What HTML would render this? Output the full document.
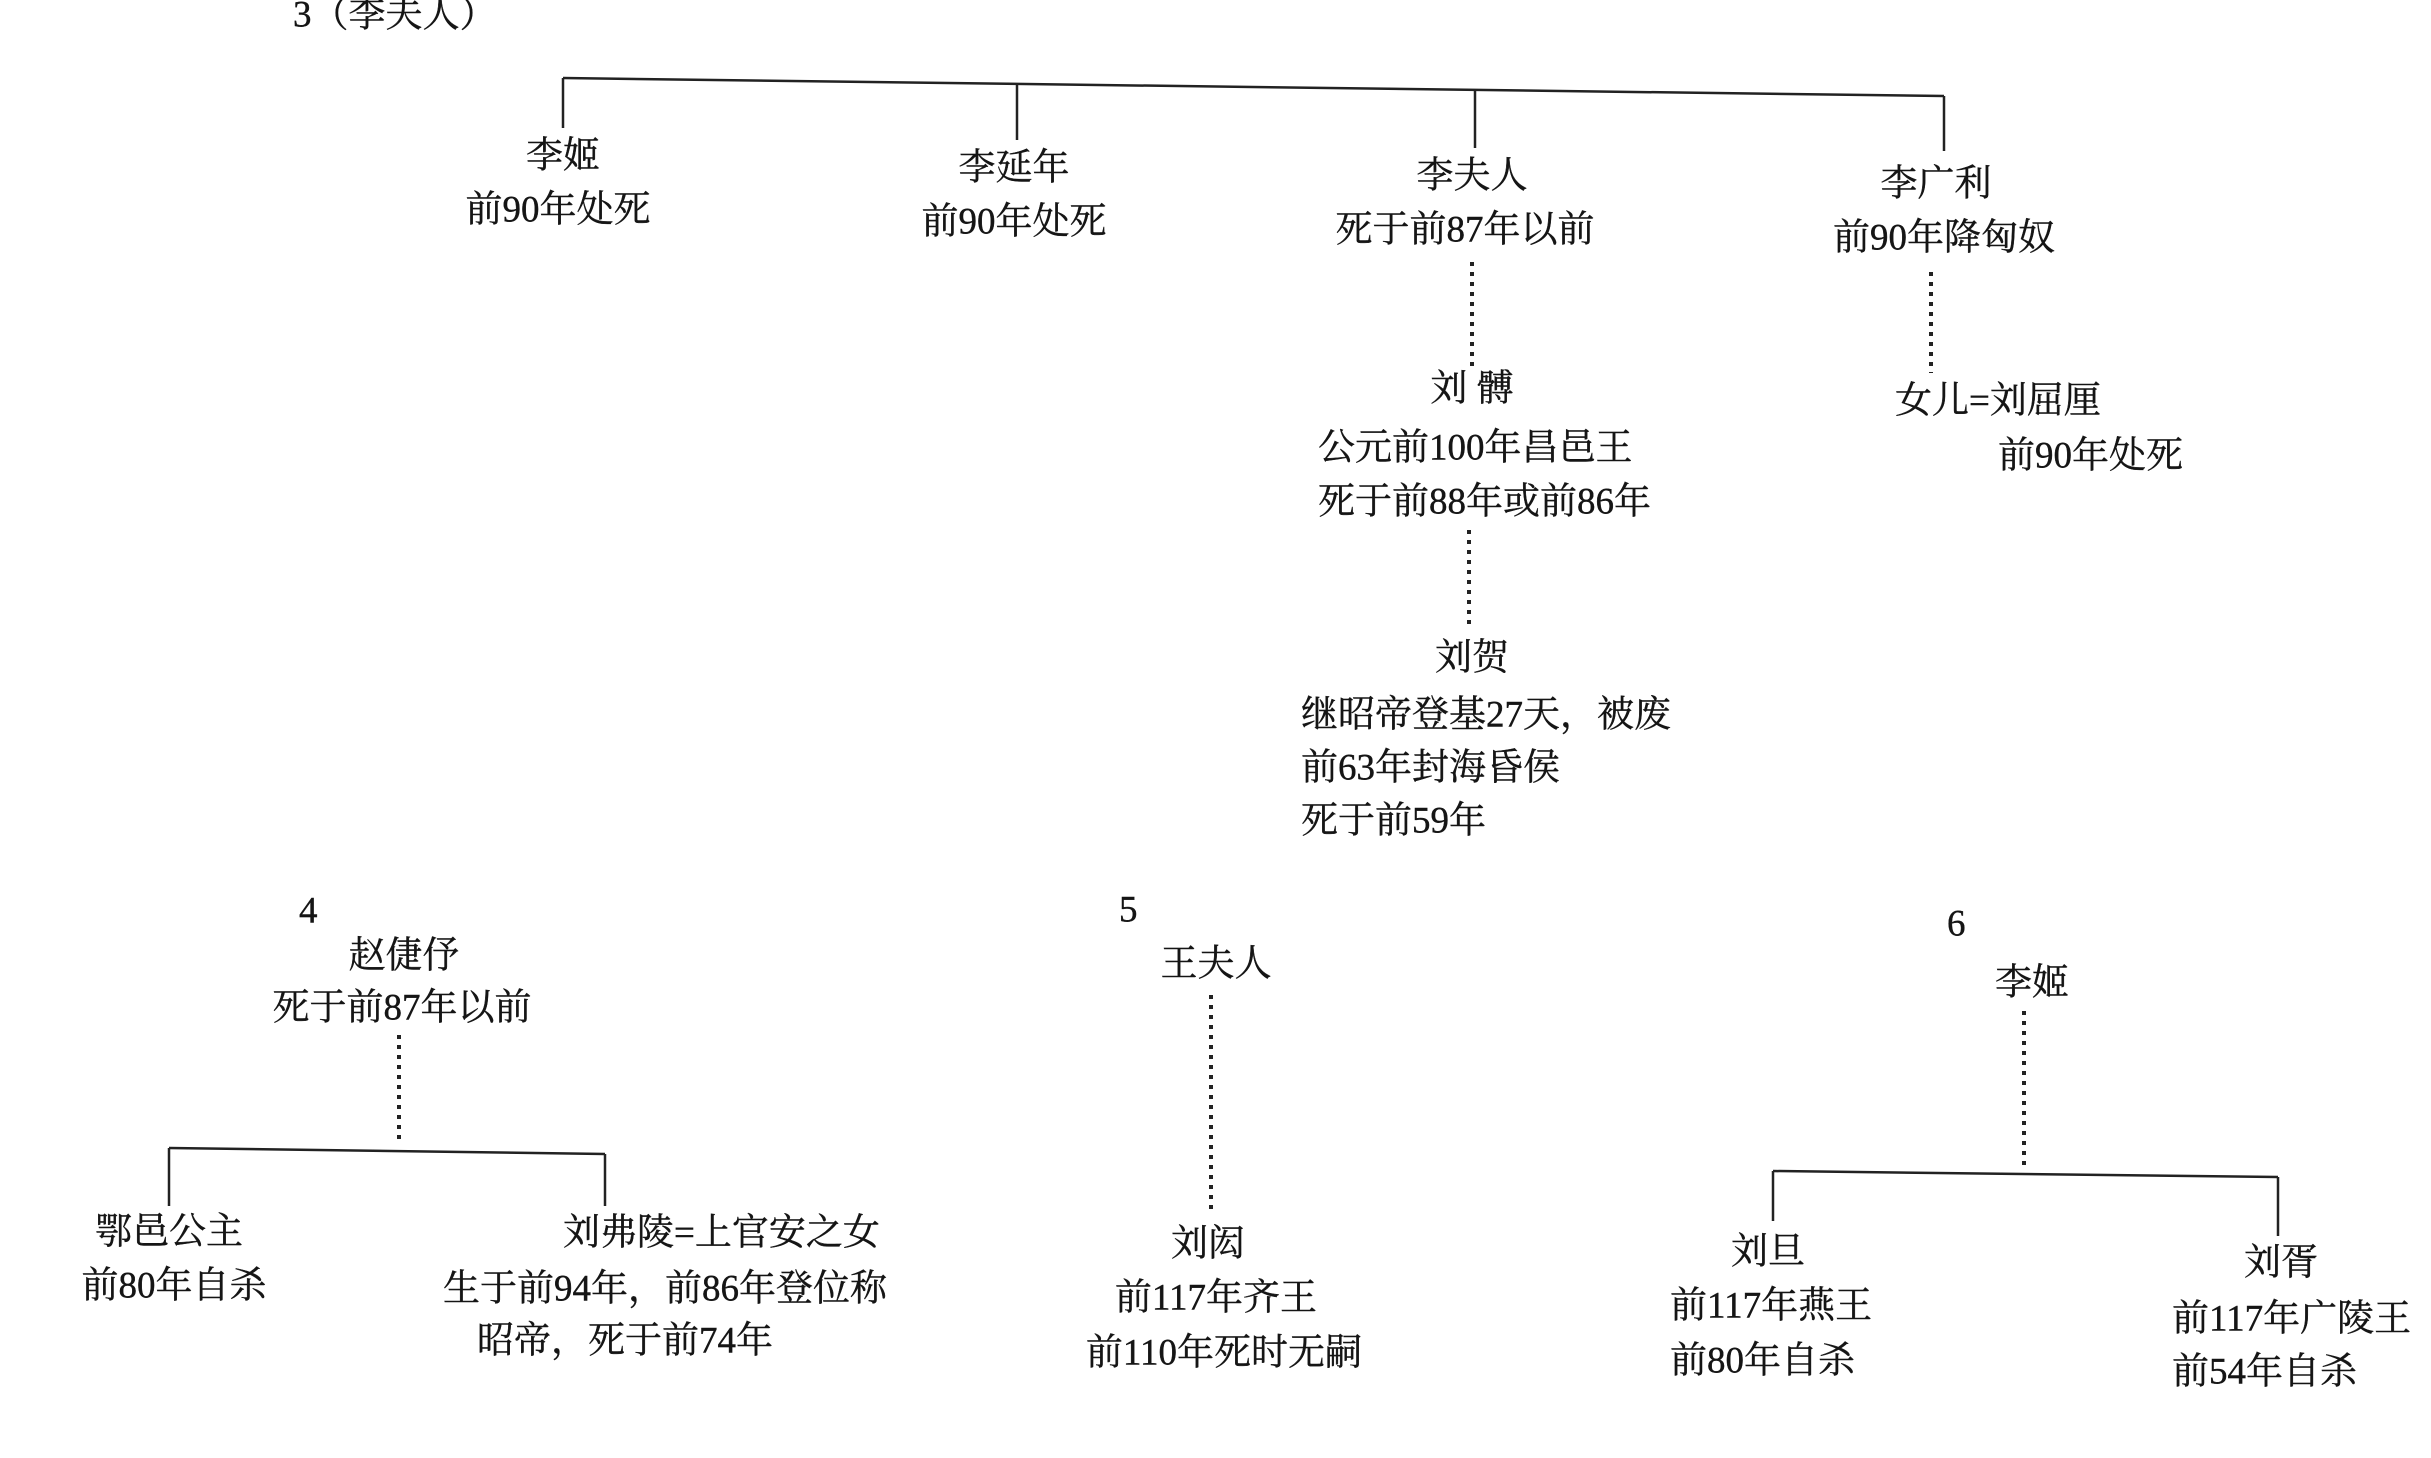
<!DOCTYPE html>
<html><head><meta charset="utf-8"><style>
html,body{margin:0;padding:0;background:#fff;}
svg{display:block;}
text{font-family:"Liberation Serif","Noto Serif CJK SC",serif;font-size:37px;fill:#151515;stroke:#151515;stroke-width:0.4;dominant-baseline:central;}
.c{text-anchor:middle;}
</style></head><body>
<svg width="2431" height="1458" viewBox="0 0 2431 1458" xmlns="http://www.w3.org/2000/svg">
<g transform="translate(-5,0)">
<g stroke="#222" stroke-width="2.5" fill="none">
<line x1="568" y1="78" x2="1949" y2="96"/>
<line x1="568" y1="78" x2="568" y2="128"/>
<line x1="1022" y1="84" x2="1022" y2="140"/>
<line x1="1480" y1="90" x2="1480" y2="148"/>
<line x1="1949" y1="96" x2="1949" y2="151"/>
<line x1="174" y1="1148" x2="610" y2="1154"/>
<line x1="174" y1="1148" x2="174" y2="1206"/>
<line x1="610" y1="1154" x2="610" y2="1206"/>
<line x1="1778" y1="1171" x2="2283" y2="1177"/>
<line x1="1778" y1="1171" x2="1778" y2="1221"/>
<line x1="2283" y1="1177" x2="2283" y2="1236"/>
</g>
<g stroke="#222" stroke-width="4" stroke-dasharray="4 6" fill="none">
<line x1="1477" y1="262" x2="1477" y2="370"/>
<line x1="1474" y1="530" x2="1474" y2="630"/>
<line x1="1936" y1="272" x2="1936" y2="373"/>
<line x1="404" y1="1035" x2="404" y2="1143"/>
<line x1="1216" y1="995" x2="1216" y2="1213"/>
<line x1="2029" y1="1011" x2="2029" y2="1167"/>
</g>
<text x="298" y="15">3（李夫人）</text>
<text class="c" x="568" y="156">李姬</text>
<text class="c" x="563" y="210">前90年处死</text>
<text class="c" x="1019" y="168">李延年</text>
<text class="c" x="1019" y="222">前90年处死</text>
<text class="c" x="1477" y="176">李夫人</text>
<text class="c" x="1470" y="230">死于前87年以前</text>
<text class="c" x="1941" y="184">李广利</text>
<text class="c" x="1949" y="238">前90年降匈奴</text>
<text class="c" x="1477" y="389">刘 髆</text>
<text x="1323" y="448">公元前100年昌邑王</text>
<text x="1323" y="502">死于前88年或前86年</text>
<text class="c" x="1477" y="658">刘贺</text>
<text x="1306" y="715">继昭帝登基27天，被废</text>
<text x="1306" y="768">前63年封海昏侯</text>
<text x="1306" y="821">死于前59年</text>
<text x="1900" y="401">女儿=刘屈厘</text>
<text x="2003" y="456">前90年处死</text>
<text x="304" y="911">4</text>
<text class="c" x="409" y="956">赵倢伃</text>
<text class="c" x="407" y="1008">死于前87年以前</text>
<text class="c" x="174" y="1232">鄂邑公主</text>
<text class="c" x="179" y="1286">前80年自杀</text>
<text x="568" y="1233">刘弗陵=上官安之女</text>
<text x="448" y="1289">生于前94年，前86年登位称</text>
<text x="482" y="1341">昭帝，死于前74年</text>
<text x="1124" y="910">5</text>
<text class="c" x="1221" y="964">王夫人</text>
<text class="c" x="1213" y="1244">刘闳</text>
<text class="c" x="1221" y="1298">前117年齐王</text>
<text class="c" x="1229" y="1353">前110年死时无嗣</text>
<text x="1952" y="924">6</text>
<text class="c" x="2037" y="983">李姬</text>
<text class="c" x="1773" y="1252">刘旦</text>
<text x="1675" y="1306">前117年燕王</text>
<text x="1675" y="1361">前80年自杀</text>
<text class="c" x="2286" y="1263">刘胥</text>
<text x="2177" y="1319">前117年广陵王</text>
<text x="2177" y="1372">前54年自杀</text>
</g>
</svg>
</body></html>
